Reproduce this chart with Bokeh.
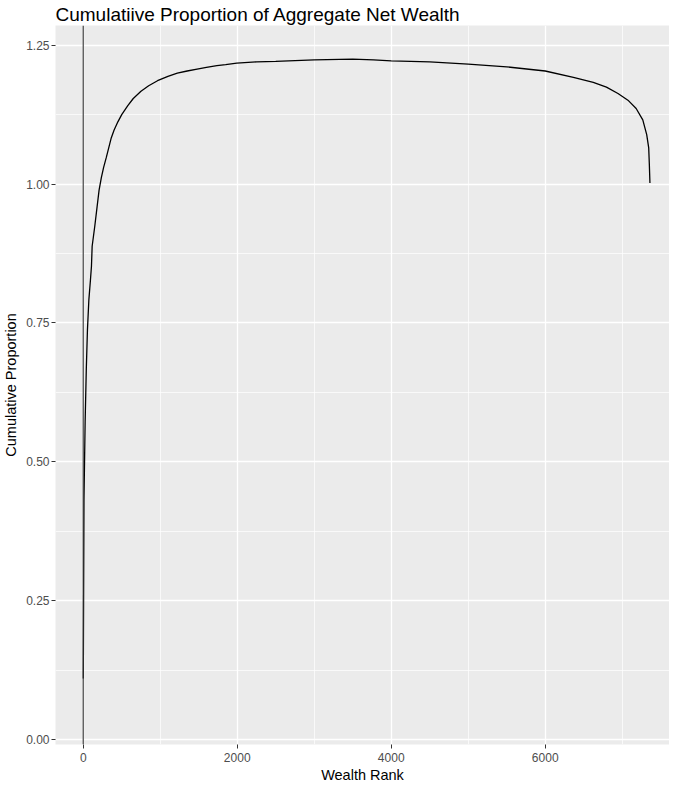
from bokeh.plotting import figure
from bokeh.models import Range1d, FixedTicker, NumeralTickFormatter, Span, Title
from bokeh.embed import file_html
from bokeh.resources import INLINE

# Data
rank = [1, 10, 25, 40, 55, 73, 93, 107, 116, 150, 180, 206, 236, 265, 300,
        364, 400, 450, 500, 579, 650, 750, 850, 965, 1100, 1222, 1350, 1479,
        1600, 1736, 1850, 1994, 2251, 2500, 3000, 3500, 3770, 4000, 4500,
        5000, 5500, 6000, 6366, 6624, 6795, 6945, 7074, 7181, 7267, 7318,
        7344, 7352, 7360]
cum_prop = [0.110, 0.434, 0.573, 0.667, 0.738, 0.791, 0.826, 0.852, 0.888,
            0.924, 0.959, 0.989, 1.012, 1.030, 1.048, 1.083, 1.097, 1.112,
            1.125, 1.141, 1.154, 1.167, 1.177, 1.186, 1.194, 1.1995, 1.2035,
            1.207, 1.210, 1.213, 1.215, 1.2177, 1.220, 1.221, 1.2235, 1.2248,
            1.2235, 1.2218, 1.220, 1.216, 1.211, 1.2035, 1.192, 1.183, 1.1745,
            1.163, 1.151, 1.136, 1.1156, 1.089, 1.065, 1.036, 1.002]

x_major = [0, 2000, 4000, 6000]
x_minor = [1000, 3000, 5000, 7000]
y_major = [0.0, 0.25, 0.5, 0.75, 1.0, 1.25]
y_minor = [0.125, 0.375, 0.625, 0.875, 1.125]

title = "Cumulatiive Proportion of Aggregate Net Wealth"
x_title = "Wealth Rank"
y_title = "Cumulative Proportion"

FONT = "Liberation Sans"

p = figure(width=669, height=782, output_backend="svg", toolbar_location=None,
           x_range=Range1d(-360, 7614), y_range=Range1d(-0.0088, 1.2854),
           min_border_left=49, min_border_right=0, min_border_top=19,
           min_border_bottom=0, title=title)

p.background_fill_color = "#EBEBEB"
p.border_fill_color = "white"
p.outline_line_color = None

p.title.text_font = FONT
p.title.text_font_size = "19px"
p.title.text_font_style = "normal"
p.title.text_color = "black"
p.title.offset = 0
p.title.standoff = 2

p.xaxis.ticker = FixedTicker(ticks=x_major, minor_ticks=x_minor)
p.yaxis.ticker = FixedTicker(ticks=y_major, minor_ticks=y_minor)
p.xaxis.formatter = NumeralTickFormatter(format="0")
p.yaxis.formatter = NumeralTickFormatter(format="0.00")

for ax in (p.xaxis, p.yaxis):
    ax.axis_line_color = None
    ax.major_tick_line_color = "#333333"
    ax.major_tick_line_width = 1
    ax.major_tick_out = 4
    ax.major_tick_in = 0
    ax.minor_tick_line_color = None
    ax.major_label_text_font = FONT
    ax.major_label_text_font_size = "12px"
    ax.major_label_text_color = "#4D4D4D"
    ax.axis_label_text_font = FONT
    ax.axis_label_text_font_size = "14.5px"
    ax.axis_label_text_font_style = "normal"
    ax.axis_label_text_color = "black"

p.yaxis.axis_label = y_title
p.xaxis.axis_label = None
p.xaxis.axis_label_standoff = 0
p.xaxis.major_label_standoff = 4
p.yaxis.major_label_standoff = 2
p.yaxis.axis_label_standoff = 4

p.add_layout(Title(text=x_title, align="center", text_font=FONT,
                   text_font_size="14.5px", text_font_style="normal",
                   text_color="black", standoff=0, offset=0), "below")

p.grid.grid_line_color = "white"
p.grid.grid_line_width = 1.3
p.grid.minor_grid_line_color = "white"
p.grid.minor_grid_line_width = 0.7

p.add_layout(Span(location=0, dimension="height", line_color="#333333",
                  line_width=1.1))

p.line(rank, cum_prop, line_color="black", line_width=1.3)

open("out.html", "w").write(file_html(p, INLINE))
